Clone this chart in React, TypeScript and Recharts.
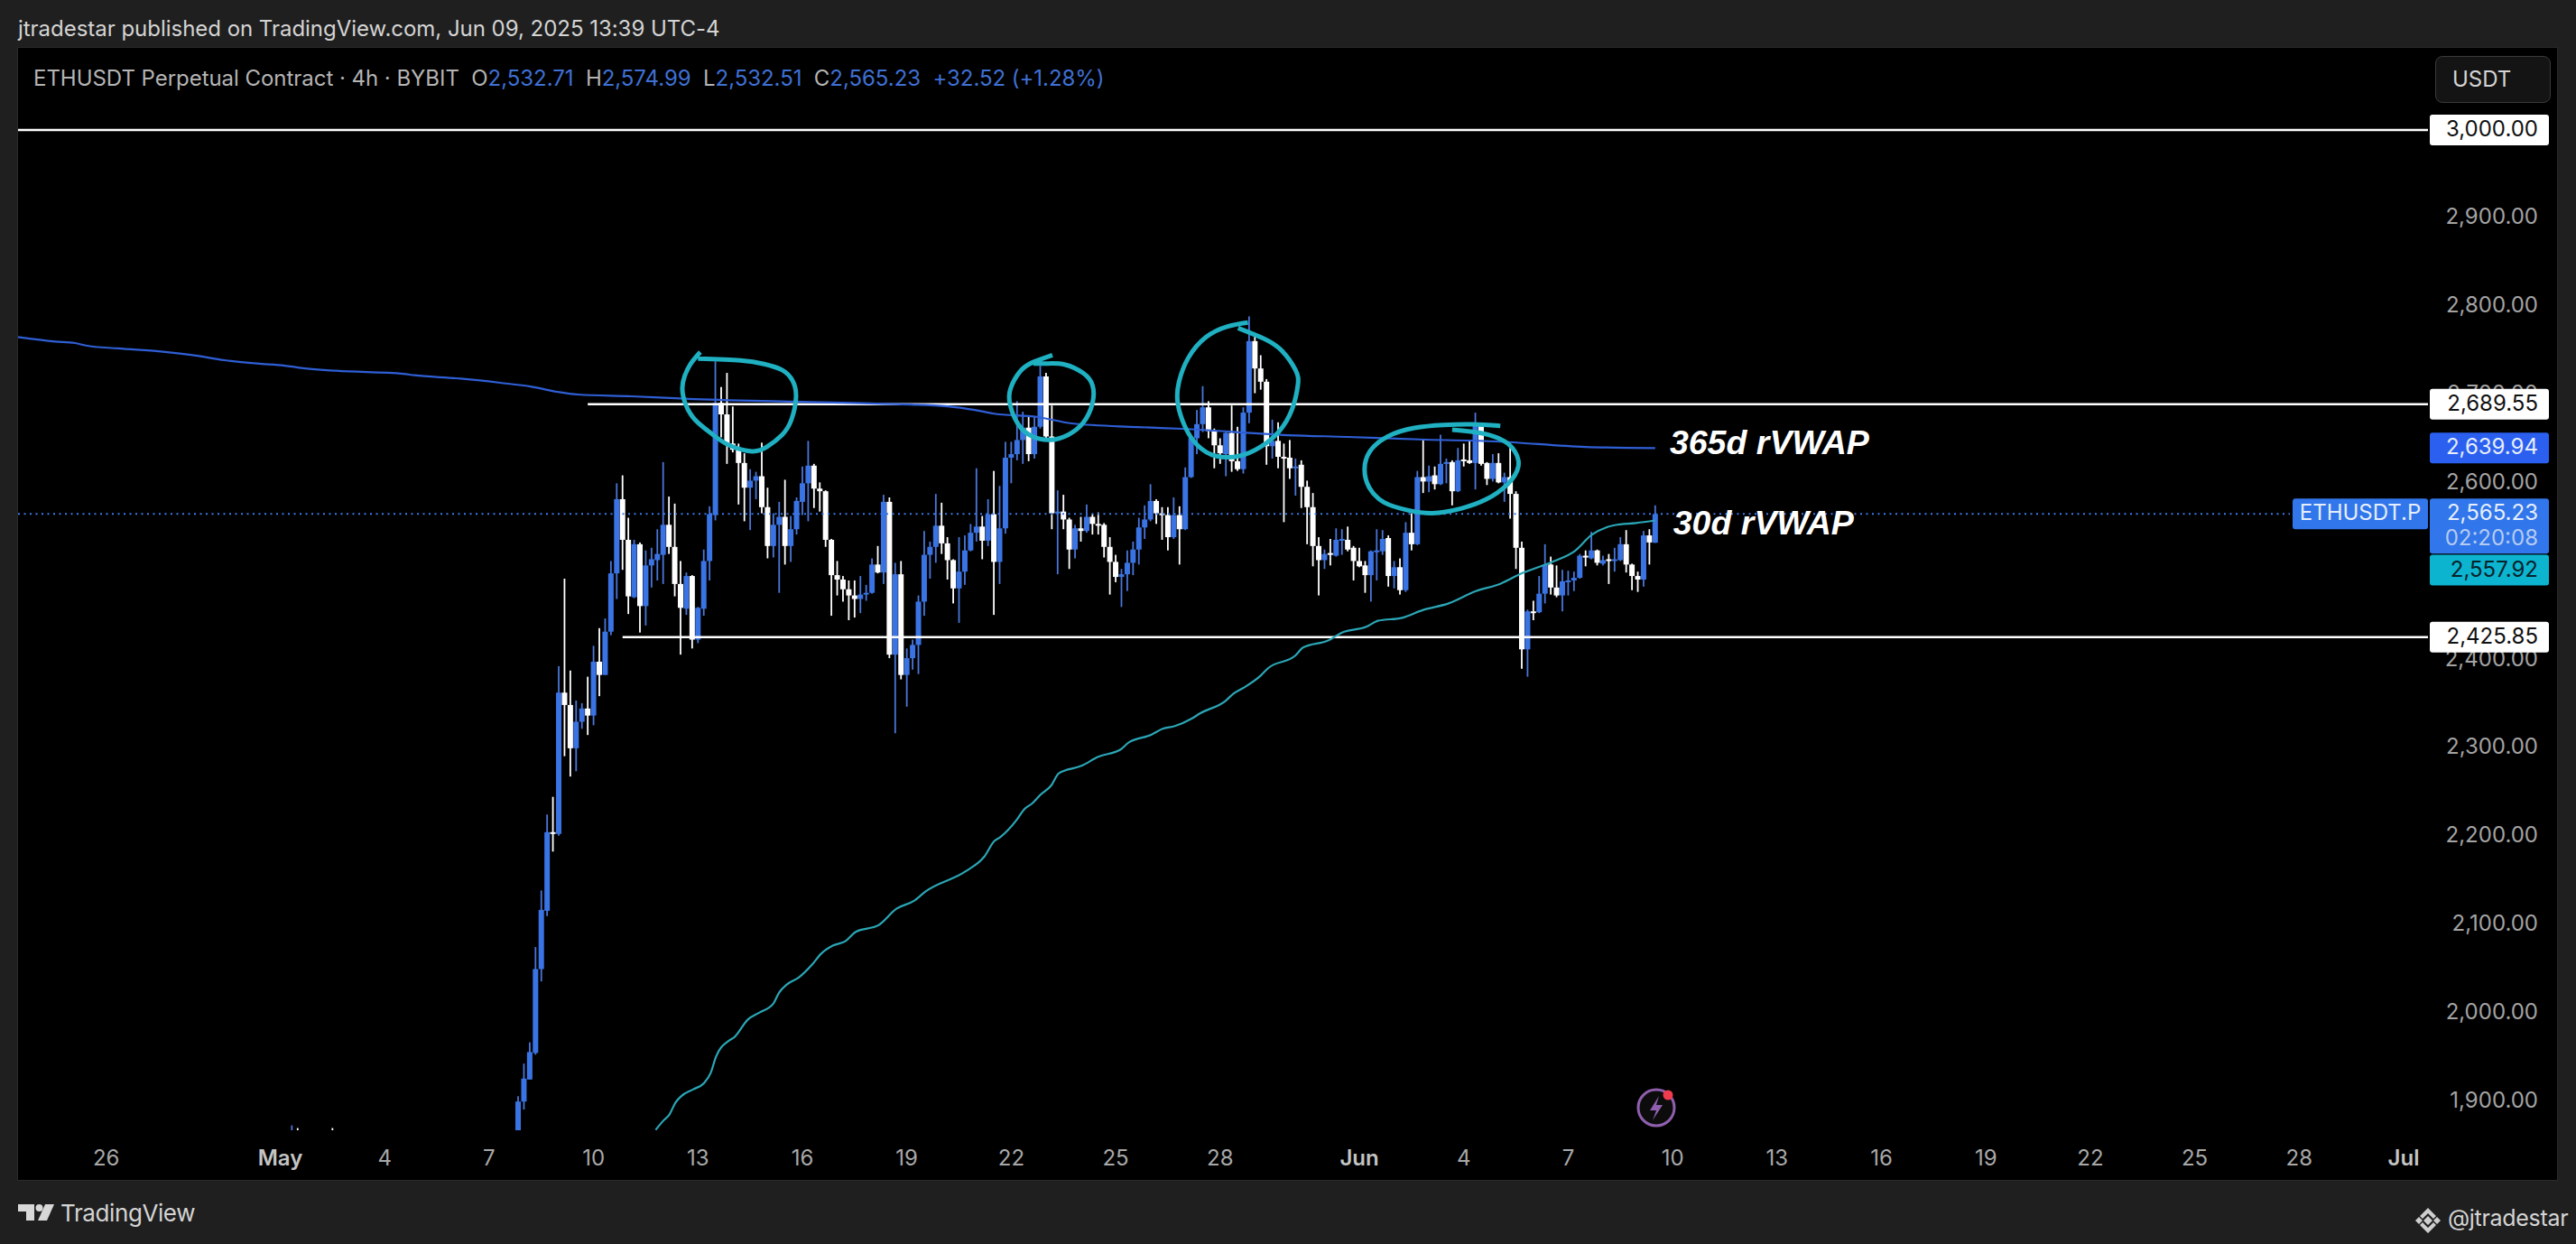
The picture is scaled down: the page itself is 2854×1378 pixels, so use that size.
import React from 'react';
import { ComposedChart, Bar, Line, XAxis, YAxis, ReferenceLine, ReferenceDot } from 'recharts';

// x unit: 4h candle slots counted from May 1 00:00
const candleSlots = [2, 3, 9, ...Array.from({ length: 197 }, (_, k) => 41 + k)];
const opens = [1830, 1850, 1850,
  1845, 1900, 1925, 1955, 2050, 2116, 2205, 2203, 2363, 2349,
  2300, 2330, 2345, 2337, 2398, 2383, 2432, 2498, 2582, 2536,
  2471, 2531, 2461, 2507, 2513, 2519, 2553, 2528, 2486, 2458,
  2495, 2423, 2458, 2512, 2564, 2691, 2678, 2645, 2640, 2623,
  2595, 2603, 2608, 2573, 2529, 2553, 2562, 2529, 2548, 2579,
  2600, 2620, 2594, 2591, 2536, 2496, 2491, 2480, 2473, 2469,
  2474, 2476, 2508, 2499, 2579, 2406, 2497, 2383, 2402, 2417,
  2466, 2519, 2528, 2552, 2532, 2513, 2481, 2500, 2524, 2544,
  2551, 2535, 2565, 2511, 2549, 2629, 2633, 2649, 2663, 2633,
  2664, 2721, 2653, 2566, 2568, 2559, 2525, 2549, 2546, 2562,
  2554, 2553, 2528, 2511, 2494, 2497, 2510, 2525, 2550, 2559,
  2580, 2566, 2564, 2539, 2564, 2548, 2607, 2651, 2667, 2686,
  2659, 2643, 2633, 2657, 2625, 2616, 2680, 2761, 2730, 2715,
  2642, 2648, 2630, 2629, 2617, 2621, 2596, 2573, 2529, 2513,
  2521, 2518, 2536, 2536, 2527, 2512, 2507, 2496, 2523, 2523,
  2538, 2495, 2505, 2479, 2544, 2531, 2607, 2602, 2609, 2599,
  2622, 2624, 2591, 2627, 2626, 2623, 2667, 2623, 2605, 2623,
  2601, 2607, 2588, 2527, 2412, 2455, 2454, 2475, 2508, 2482,
  2473, 2489, 2490, 2493, 2518, 2515, 2524, 2509, 2514, 2513,
  2513, 2531, 2508, 2495, 2491, 2541, 2532.71];
const highs = [1873, 1870, 1870,
  1906, 1943, 1967, 2075, 2139, 2225, 2245, 2393, 2492, 2388,
  2354, 2351, 2381, 2416, 2436, 2447, 2512, 2600, 2609, 2561,
  2536, 2533, 2524, 2527, 2548, 2624, 2585, 2577, 2512, 2499,
  2496, 2460, 2525, 2574, 2738, 2709, 2725, 2687, 2645, 2634,
  2616, 2613, 2646, 2595, 2566, 2579, 2604, 2563, 2584, 2619,
  2648, 2622, 2601, 2592, 2537, 2512, 2495, 2490, 2490, 2495,
  2485, 2515, 2529, 2587, 2584, 2510, 2512, 2413, 2423, 2473,
  2546, 2534, 2588, 2578, 2539, 2514, 2539, 2541, 2554, 2617,
  2563, 2582, 2614, 2597, 2647, 2647, 2693, 2681, 2675, 2675,
  2733, 2725, 2688, 2592, 2587, 2561, 2553, 2562, 2576, 2565,
  2567, 2555, 2539, 2519, 2503, 2524, 2534, 2561, 2575, 2599,
  2582, 2573, 2573, 2584, 2574, 2618, 2653, 2683, 2710, 2693,
  2662, 2651, 2658, 2688, 2664, 2686, 2789, 2767, 2745, 2718,
  2672, 2669, 2645, 2649, 2628, 2626, 2603, 2589, 2539, 2525,
  2537, 2549, 2548, 2551, 2529, 2527, 2512, 2524, 2548, 2547,
  2541, 2512, 2515, 2556, 2566, 2614, 2650, 2620, 2619, 2655,
  2628, 2626, 2640, 2645, 2649, 2680, 2668, 2624, 2633, 2634,
  2612, 2641, 2591, 2534, 2457, 2467, 2495, 2531, 2517, 2507,
  2502, 2501, 2500, 2520, 2524, 2545, 2525, 2518, 2520, 2527,
  2539, 2547, 2509, 2500, 2546, 2548, 2574.99];
const lows = [1820, 1830, 1830,
  1840, 1891, 1925, 1953, 2036, 2110, 2183, 2201, 2291, 2268,
  2274, 2322, 2315, 2326, 2359, 2383, 2428, 2469, 2502, 2452,
  2470, 2431, 2439, 2482, 2490, 2486, 2520, 2472, 2406, 2451,
  2413, 2419, 2450, 2490, 2558, 2652, 2622, 2635, 2576, 2557,
  2547, 2582, 2566, 2515, 2516, 2476, 2508, 2511, 2542, 2564,
  2557, 2572, 2568, 2528, 2450, 2473, 2466, 2445, 2448, 2453,
  2467, 2475, 2498, 2486, 2402, 2317, 2378, 2347, 2389, 2384,
  2450, 2492, 2510, 2520, 2491, 2464, 2442, 2485, 2523, 2534,
  2514, 2529, 2451, 2486, 2543, 2600, 2626, 2622, 2625, 2628,
  2662, 2650, 2548, 2497, 2548, 2503, 2515, 2534, 2544, 2542,
  2542, 2516, 2474, 2488, 2460, 2478, 2496, 2508, 2537, 2557,
  2554, 2536, 2524, 2537, 2508, 2547, 2606, 2633, 2658, 2651,
  2617, 2622, 2608, 2613, 2614, 2611, 2668, 2702, 2706, 2621,
  2628, 2617, 2556, 2605, 2586, 2572, 2531, 2506, 2473, 2503,
  2507, 2517, 2519, 2523, 2490, 2505, 2476, 2466, 2490, 2519,
  2483, 2481, 2474, 2477, 2524, 2530, 2589, 2590, 2593, 2598,
  2600, 2575, 2590, 2619, 2622, 2593, 2620, 2598, 2602, 2600,
  2579, 2560, 2503, 2390, 2381, 2445, 2453, 2464, 2474, 2471,
  2455, 2473, 2478, 2492, 2506, 2514, 2507, 2507, 2486, 2500,
  2512, 2499, 2479, 2477, 2483, 2508, 2532.51];
const closes = [1860, 1840, 1840,
  1900, 1926, 1956, 2050, 2117, 2205, 2203, 2363, 2349, 2300,
  2330, 2345, 2337, 2398, 2383, 2432, 2498, 2582, 2536, 2472,
  2531, 2461, 2507, 2514, 2520, 2553, 2528, 2486, 2459, 2495,
  2423, 2459, 2512, 2565, 2691, 2678, 2645, 2638, 2623, 2595,
  2603, 2608, 2573, 2529, 2553, 2562, 2529, 2548, 2580, 2600,
  2620, 2594, 2591, 2536, 2496, 2491, 2480, 2473, 2469, 2474,
  2476, 2508, 2499, 2579, 2406, 2497, 2383, 2402, 2417, 2466,
  2519, 2528, 2552, 2532, 2513, 2481, 2500, 2524, 2544, 2551,
  2535, 2565, 2511, 2549, 2629, 2633, 2649, 2663, 2633, 2664,
  2721, 2653, 2566, 2568, 2559, 2525, 2549, 2546, 2562, 2554,
  2553, 2528, 2511, 2494, 2497, 2510, 2525, 2550, 2559, 2580,
  2566, 2565, 2539, 2564, 2548, 2607, 2651, 2667, 2686, 2659,
  2643, 2634, 2657, 2625, 2616, 2680, 2761, 2730, 2715, 2642,
  2648, 2630, 2629, 2617, 2619, 2596, 2573, 2529, 2513, 2520,
  2520, 2536, 2537, 2525, 2512, 2506, 2496, 2523, 2524, 2537,
  2495, 2505, 2479, 2544, 2531, 2607, 2602, 2608, 2599, 2622,
  2624, 2591, 2626, 2626, 2623, 2667, 2622, 2605, 2623, 2601,
  2607, 2588, 2527, 2412, 2455, 2454, 2475, 2508, 2482, 2473,
  2489, 2490, 2493, 2518, 2516, 2524, 2510, 2513, 2513, 2514,
  2531, 2508, 2495, 2491, 2541, 2533, 2565.23];

const vwap365Slots = [-45.2, -38.8, -35.4, -33.5, -28, -20.6, -15.1, -9.6, -4, 0.8, 3.3, 9.6, 21.2, 23.1, 30.4, 37.9, 43.3, 47.7, 51.3, 60.6, 69.9, 88.6, 106.2, 115, 119.7, 122.8, 130.6, 136.4, 147.7, 155.5, 173.7, 184, 197.5, 209.6, 225, 237];
const vwap365Values = [2765.6, 2760.5, 2758.8, 2756, 2752.7, 2749.3, 2745.2, 2739.4, 2735.6, 2733.2, 2730.9, 2727.4, 2724, 2722.3, 2718.9, 2713.8, 2709.4, 2703.6, 2700.5, 2698.5, 2695.7, 2692.4, 2689.6, 2687.2, 2683.1, 2679.1, 2675, 2667.8, 2663.7, 2661.7, 2654.5, 2652.5, 2649.4, 2647.4, 2641.2, 2639.94];

const vwap30Slots = [64.7, 66, 67.1, 68.1, 69.1, 71.2, 73, 74.2, 75.1, 77.2, 78.2, 80.6, 82.6, 85, 86, 87.3, 89.4, 91.7, 93.2, 95.3, 97.4, 99.2, 103.1, 106.2, 109.3, 111.2, 118.2, 121.3, 123.1, 124.1, 127, 128.2, 129.6, 131.1, 132.9, 134.2, 138.1, 141, 144.9, 146.2, 150.1, 152.1, 154.2, 157.1, 158.6, 163, 164.3, 166.1, 169, 170.3, 175, 176.3, 180.7, 183, 187.2, 189.2, 193.4, 197, 201.4, 206, 210.3, 214, 219.5, 223.2, 226, 230, 233.7, 237];
const vwap30Values = [1867.9, 1878.1, 1885.6, 1898.6, 1906, 1913.9, 1920.7, 1932.6, 1950.7, 1968.4, 1972.5, 1992.9, 2000.8, 2011, 2023.6, 2032.4, 2040.6, 2055.3, 2067.2, 2076.7, 2081.5, 2092.1, 2099.6, 2118.3, 2127.5, 2137.7, 2160.9, 2176.9, 2195, 2199.4, 2219.5, 2230.7, 2237.5, 2247.7, 2258, 2271.6, 2280.1, 2290.3, 2298.8, 2306.3, 2315.2, 2322, 2325.1, 2333.6, 2339.7, 2354, 2361.9, 2368.7, 2382.3, 2390.8, 2405.1, 2414, 2422.2, 2431, 2437.5, 2444.3, 2447.7, 2456.6, 2464, 2477.7, 2486.2, 2498.1, 2511.7, 2523.7, 2541.4, 2552.6, 2555, 2557.92];

// Hand-drawn rings
const ring1Slots = [72.4, 70.7, 69.7, 69.3, 69.8, 71.5, 74.6, 77.4, 81.3, 83.9, 86.5, 88.1, 88.9, 88.3, 86.5, 83.4, 79.3, 72];
const ring1Values = [2748.6, 2735, 2721.3, 2707.7, 2690.7, 2671.9, 2654.9, 2643, 2636.2, 2641.3, 2654.9, 2671.9, 2697.5, 2716.2, 2728.2, 2735, 2739, 2741.1];
const ring2Slots = [133.1, 129.6, 127.5, 125.9, 125.8, 127.2, 129.6, 132.7, 135.8, 138.4, 140, 140, 138.4, 135.3, 132.2, 129.8];
const ring2Values = [2745.2, 2736.7, 2726.4, 2707.7, 2689, 2666.8, 2653.2, 2649.1, 2654.9, 2668.5, 2690.7, 2711.1, 2724.7, 2734.3, 2735.6, 2735.6];
const ring3Slots = [166.8, 163.3, 159.6, 156.5, 154.9, 154.7, 156, 158.1, 161.2, 165.4, 169, 172.1, 174.4, 175.4, 175, 172.6, 169.5, 165.1];
const ring3Values = [2782, 2777.6, 2765.6, 2741.8, 2714.5, 2690.7, 2663.4, 2643, 2631, 2631, 2641.3, 2658.3, 2683.9, 2711.1, 2728.2, 2750.3, 2763.9, 2775.8];
const ring4Slots = [210.3, 205.4, 200.5, 195.5, 190.9, 187.8, 186.9, 187.7, 190.3, 194.3, 198.6, 203.5, 207.8, 211.5, 213.4, 212.8, 210.9, 207.2, 202];
const ring4Values = [2665, 2666.8, 2666.1, 2662.7, 2653.1, 2636.1, 2615.6, 2595.2, 2578.2, 2569.6, 2566.2, 2571.4, 2581.6, 2598.6, 2619, 2636.1, 2648, 2656.5, 2660.6];

const xTickSlots = [-30, 0, 18, 36, 54, 72, 90, 108, 126, 144, 162, 186, 204, 222, 240, 258, 276, 294, 312, 330, 348, 366];
const xTickLabels = ['26', 'May', '4', '7', '10', '13', '16', '19', '22', '25', '28', 'Jun', '4', '7', '10', '13', '16', '19', '22', '25', '28', 'Jul'];
const yTicks = [1900, 2000, 2100, 2200, 2300, 2400, 2500, 2600, 2700, 2800, 2900, 3000];

const X_DOMAIN: [number, number] = [-45.2, 370.2];
const Y_DOMAIN: [number, number] = [1867.5, 3092];
const LAST_PRICE = 2565.23;

const levelPrices = [3000, 2689.55, 2425.85];
const levelStarts = [-45.2, 53, 59];

const FONT = 'Inter, "Noto Sans", sans-serif';
const BLUE = '#3a73e3';
const TEAL = '#1fb0c2';

const candles = candleSlots.map((slot, k) => ({
  slot,
  open: opens[k],
  high: highs[k],
  low: lows[k],
  close: closes[k],
}));
const zipLine = (xs: number[], ys: number[]) => xs.map((slot, k) => ({ slot, value: ys[k] }));

const CandleShape = (props: any) => {
  const { x, width, y, height, payload } = props;
  const h = Math.abs(height);
  const span = payload.high - payload.low || 1;
  const k = h / span;
  const top = y + (payload.high - Math.max(payload.open, payload.close)) * k;
  const bodyH = Math.max(Math.abs(payload.close - payload.open) * k, 2);
  const up = payload.close >= payload.open;
  const cx = x + width / 2;
  const color = up ? BLUE : '#ffffff';
  return (
    <g>
      <rect x={cx - 0.9} y={y} width={1.8} height={h} fill={up ? '#4a76d8' : '#ffffff'} />
      <rect x={cx - 3} y={top} width={6} height={bodyH} fill={color} />
    </g>
  );
};

const PriceTick = (props: any) => {
  const { y, payload } = props;
  return (
    <text x={2812} y={y - 2} textAnchor="end" dominantBaseline="central" fontFamily={FONT} fontSize={24} fill="#a3a3a3">
      {Number(payload.value).toLocaleString('en-US', { minimumFractionDigits: 2 })}
    </text>
  );
};

const TimeTick = (props: any) => {
  const { x, payload } = props;
  const label = xTickLabels[xTickSlots.indexOf(payload.value)];
  const month = /[a-z]/i.test(label);
  return (
    <text x={x} y={1282} textAnchor="middle" dominantBaseline="central" fontFamily={FONT} fontSize={24} fontWeight={month ? 600 : 400} fill={month ? '#c4c4c4' : '#a8a8a8'}>
      {label}
    </text>
  );
};

const tag = (fill: string, color: string, label: string, dy = 0) => (p: any) => (
  <g>
    <rect x={p.cx + 2} y={p.cy + dy - 17} width={132} height={34} rx={3} fill={fill} />
    <text x={p.cx + 122} y={p.cy + dy - 1.5} textAnchor="end" dominantBaseline="central" fontFamily={FONT} fontSize={24} fill={color}>{label}</text>
  </g>
);

const lastTag = (p: any) => (
  <g>
    <rect x={p.cx - 150} y={p.cy - 17} width={150} height={34} rx={3} fill="#3176ea" />
    <text x={p.cx - 75} y={p.cy - 1.5} textAnchor="middle" dominantBaseline="central" fontFamily={FONT} fontSize={24} fill="#e6eefb">ETHUSDT.P</text>
    <rect x={p.cx + 2} y={p.cy - 17} width={132} height={61} rx={3} fill="#3176ea" />
    <text x={p.cx + 122} y={p.cy - 2} textAnchor="end" dominantBaseline="central" fontFamily={FONT} fontSize={24} fill="#e6eefb">2,565.23</text>
    <text x={p.cx + 122} y={p.cy + 26} textAnchor="end" dominantBaseline="central" fontFamily={FONT} fontSize={24} fill="#b5cbf2">02:20:08</text>
  </g>
);

const noteShape = (label: string) => (p: any) => (
  <text x={p.cx} y={p.cy} fontFamily='"Liberation Sans", Arial, sans-serif' fontSize={37.5} fontWeight={700} fontStyle="italic" fill="#ffffff">{label}</text>
);

const abs = (left: number, top: number, extra: any = {}) => ({ position: 'absolute', left, top, whiteSpace: 'pre', lineHeight: 1, fontFamily: FONT, ...extra });

const legendGrey = '#b4b4b4';
const legendBlue = '#3f70d4';

export default function App() {
  return (
    <div style={{ position: 'absolute', left: 0, top: 0, width: 2854, height: 1378, background: '#1f1f1f', overflow: 'hidden' }}>
      <div style={{ position: 'absolute', left: 20, top: 53, width: 2813, height: 1254, background: '#000', boxShadow: '0 0 0 1px #2a2a2a' }} />
      <div style={abs(20, 20, { fontSize: 24, color: '#d4d4d4', letterSpacing: -0.03 })}>jtradestar published on TradingView.com, Jun 09, 2025 13:39 UTC-4</div>
      <div style={{ position: 'absolute', left: 0, top: 0 }}>
        <ComposedChart width={2854} height={1378} data={candles} margin={{ left: 20, top: 54, right: 21, bottom: 71 }}>
          <XAxis
            dataKey="slot"
            type="number"
            domain={X_DOMAIN}
            allowDataOverflow
            ticks={xTickSlots}
            interval={0}
            height={55}
            axisLine={false}
            tickLine={false}
            tick={<TimeTick />}
          />
          <YAxis
            orientation="right"
            type="number"
            domain={Y_DOMAIN}
            allowDataOverflow
            ticks={yTicks}
            interval={0}
            width={143}
            axisLine={false}
            tickLine={false}
            tick={<PriceTick />}
          />
          {levelPrices.map((p, k) => (
            <ReferenceLine key={p} segment={[{ x: levelStarts[k], y: p }, { x: X_DOMAIN[1], y: p }]} stroke="#ffffff" strokeWidth={2.4} />
          ))}
          <ReferenceLine segment={[{ x: X_DOMAIN[0], y: LAST_PRICE }, { x: 346.4, y: LAST_PRICE }]} stroke="#3d78e8" strokeWidth={2} strokeDasharray="2 4.5" />
          <Bar dataKey={(d: any) => [d.low, d.high]} barSize={6} shape={<CandleShape />} isAnimationActive={false} />
          <Line data={zipLine(vwap365Slots, vwap365Values)} dataKey="value" type="monotone" stroke="#2f5fd6" strokeWidth={2.2} dot={false} isAnimationActive={false} />
          <Line data={zipLine(vwap30Slots, vwap30Values)} dataKey="value" type="monotone" stroke="#2ba6b6" strokeWidth={2.2} dot={false} isAnimationActive={false} />
          <Line data={zipLine(ring1Slots, ring1Values)} dataKey="value" type="natural" stroke={TEAL} strokeWidth={5} dot={false} isAnimationActive={false} />
          <Line data={zipLine(ring2Slots, ring2Values)} dataKey="value" type="natural" stroke={TEAL} strokeWidth={5} dot={false} isAnimationActive={false} />
          <Line data={zipLine(ring3Slots, ring3Values)} dataKey="value" type="natural" stroke={TEAL} strokeWidth={5} dot={false} isAnimationActive={false} />
          <Line data={zipLine(ring4Slots, ring4Values)} dataKey="value" type="natural" stroke={TEAL} strokeWidth={5} dot={false} isAnimationActive={false} />
        </ComposedChart>
      </div>
      <div style={{ position: 'absolute', left: 0, top: 0 }}>
        <ComposedChart width={2854} height={1378} data={candles} margin={{ left: 20, top: 54, right: 164, bottom: 126 }}>
          <XAxis dataKey="slot" type="number" domain={X_DOMAIN} allowDataOverflow hide />
          <YAxis type="number" domain={Y_DOMAIN} allowDataOverflow hide />
          <ReferenceDot x={239.5} y={2633} r={0} shape={noteShape('365d rVWAP')} ifOverflow="visible" />
          <ReferenceDot x={240.1} y={2542} r={0} shape={noteShape('30d rVWAP')} ifOverflow="visible" />
          <ReferenceDot x={X_DOMAIN[1]} y={3000} shape={tag('#ffffff', '#111111', '3,000.00')} ifOverflow="visible" />
          <ReferenceDot x={X_DOMAIN[1]} y={2689.55} shape={tag('#ffffff', '#111111', '2,689.55')} ifOverflow="visible" />
          <ReferenceDot x={X_DOMAIN[1]} y={2639.94} shape={tag('#2a5fef', '#e6eefb', '2,639.94')} ifOverflow="visible" />
          <ReferenceDot x={X_DOMAIN[1]} y={2425.85} shape={tag('#ffffff', '#111111', '2,425.85')} ifOverflow="visible" />
          <ReferenceDot x={X_DOMAIN[1]} y={LAST_PRICE} shape={lastTag} ifOverflow="visible" />
          <ReferenceDot x={X_DOMAIN[1]} y={2557.92} shape={tag('#0db4d0', '#06222a', '2,557.92', 55)} ifOverflow="visible" />
        </ComposedChart>
      </div>
      <div style={abs(37, 75, { fontSize: 24, color: legendGrey, letterSpacing: -0.04 })}>
        ETHUSDT Perpetual Contract · 4h · BYBIT{'  '}O<span style={{ color: legendBlue }}>2,532.71</span>{'  '}H<span style={{ color: legendBlue }}>2,574.99</span>{'  '}L<span style={{ color: legendBlue }}>2,532.51</span>{'  '}C<span style={{ color: legendBlue }}>2,565.23</span>{'  '}<span style={{ color: legendBlue }}>+32.52 (+1.28%)</span>
      </div>
      <div style={{ position: 'absolute', left: 2698, top: 62, width: 128, height: 52, boxSizing: 'border-box', border: '1.5px solid #3a3a3a', borderRadius: 8, background: '#141414' }} />
      <div style={abs(2717, 76, { fontSize: 24, color: '#d4d4d4' })}>USDT</div>
      <svg style={{ position: 'absolute', left: 0, top: 0 }} width={2854} height={1378}>
        <circle cx={1835} cy={1227} r={20} fill="#0c0c0c" stroke="#8f5fae" strokeWidth={3} />
        <path d="M1838 1214 L1828 1230 L1835 1230 L1831 1241 L1842 1224 L1835 1224 Z" fill="#8f5fae" />
        <circle cx={1848} cy={1213} r={5.5} fill="#ef3b4c" />
        <path d="M20 1334 H38 V1352 H29 V1342 H20 Z" fill="#d8d8d8" />
        <circle cx={43.5} cy={1338} r={4} fill="#d8d8d8" />
        <path d="M50 1334 H60 L52 1352 H42 Z" fill="#d8d8d8" />
        <path d="M2690 1347 l5 5 -5 5 -5 -5 Z M2680 1348 l4 4 -4 4 -4 -4 Z M2700 1348 l4 4 -4 4 -4 -4 Z M2690 1338 l9 9 -3 3 -6 -6 -6 6 -3 -3 Z M2690 1366 l9 -9 -3 -3 -6 6 -6 -6 -3 3 Z" fill="#cfcfcf" />
      </svg>
      <div style={abs(67, 1330.5, { fontSize: 26, color: '#d4d4d4', letterSpacing: -0.4 })}>TradingView</div>
      <div style={abs(2712, 1337, { fontSize: 25, color: '#d4d4d4', letterSpacing: -0.3 })}>@jtradestar</div>
    </div>
  );
}
